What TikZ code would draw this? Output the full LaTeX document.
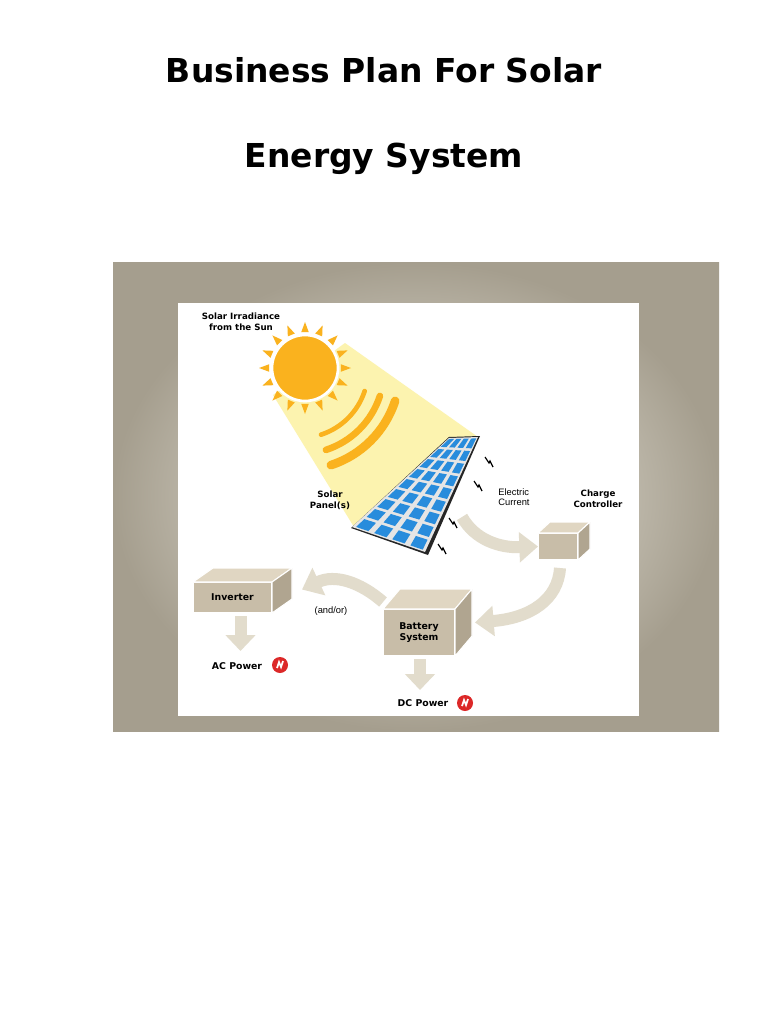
\documentclass[tikz,border=0pt]{standalone}
\usepackage{fontspec}
\setmainfont{DejaVu Sans}
\newfontfamily\lab{Liberation Sans}
\usetikzlibrary{arrows.meta,calc}
\definecolor{beam}{RGB}{252,243,175}
\definecolor{sun}{RGB}{250,178,30}
\definecolor{panelblue}{RGB}{40,140,220}
\definecolor{boxfront}{RGB}{200,189,168}
\definecolor{boxtop}{RGB}{224,214,194}
\definecolor{boxside}{RGB}{176,165,144}
\definecolor{arrowc}{RGB}{226,220,204}
\definecolor{iconred}{RGB}{220,40,40}
\tikzset{
 title/.style={font=\bfseries\fontsize{24.7}{30}\selectfont},
 small/.style={font=\bfseries\fontsize{6.5}{8}\selectfont,align=center},
 boxlab/.style={font=\bfseries\fontsize{7}{8}\selectfont,align=center},
 reg/.style={font=\lab\fontsize{7}{8}\selectfont,align=left},
 flow/.style={draw=arrowc,line width=9,-{Triangle[length=14,width=22]}},
 downarr/.style={draw=arrowc,line width=9,-{Triangle[length=12,width=22]}},
 bolt/.style={draw=black,line width=0.9},
 front/.style={fill=boxfront,draw=white,line width=0.8,inner sep=0,outer sep=0},
}
\newcommand\mkcube[7]{% name, x1,y1,x2,y2, dx,dy
 \node[front,minimum width={(#4-#2)*0.75pt},minimum height={(#5-#3)*0.75pt},anchor=north west] (#1) at (#2,#3) {};
 \fill[boxtop,draw=white,line width=0.8] (#1.north west) -- ++(#6,#7) -- ($(#1.north east)+(#6,#7)$) -- (#1.north east) -- cycle;
 \fill[boxside,draw=white,line width=0.8] (#1.north east) -- ++(#6,#7) -- ($(#1.south east)+(#6,#7)$) -- (#1.south east) -- cycle;
}
\newcommand\mkicon[3]{%
 \node[circle,fill=iconred,minimum size=12,inner sep=0] (#1) at (#2,#3) {};
 \draw[white,line width=1.3] ($(#1)+(-3,3)$) -- ($(#1)+(-1,-3)$) -- ($(#1)+(1,2)$) -- ($(#1)+(3,-4)$);
}
% bilinear point on panel: TL(449,438) TR(478,437) BL(352,527) BR(425,552)
\newcommand\pp[2]{({(1-#2)*(449+#1*29)+#2*(352+#1*73)},{(1-#2)*(438-#1*1)+#2*(527+#1*25)})}
\begin{document}
\begin{tikzpicture}[x=0.75pt,y=-0.75pt]
\useasboundingbox (0,0) rectangle (768,1024);
\fill[white] (0,0) rectangle (768,1024);
\node[title] (t1) at (384,70) {Business Plan For Solar};
\node[title] (t2) at (384,159) {Energy System};
% frame
\shade[inner color={rgb,255:red,244;green,242;blue,234},outer color={rgb,255:red,165;green,158;blue,142}] (113,262) rectangle (719,731);
\fill[white] (178,303) rectangle (639,716);
% beam
\fill[beam] (345,343) -- (478,437) -- (354,527) -- (273,395) -- cycle;
% sun
\foreach \a in {0,22.5,...,359} {
 \fill[sun] ($(305,368)+(\a-6:36)$) -- ($(305,368)+(\a:46)$) -- ($(305,368)+(\a+6:36)$) -- cycle;
}
\fill[sun,draw=white,line width=2] (305,368) circle (33);
% crescents
\foreach \r/\w in {68/3.5,84/5,100/6.5} {
 \draw[sun,line width=\w,line cap=round] ($(300,370)+(18:\r)$) arc (18:72:\r);
}
% panel
\fill[black!85] (449,437) -- (480,436) -- (428,555) -- (351,528) -- cycle;
\fill[white!90!black] \pp{0}{0} -- \pp{1}{0} -- \pp{1}{1} -- \pp{0}{1} -- cycle;
\foreach \i in {0,...,3} \foreach \j in {0,...,8} {
 \pgfmathsetmacro\ua{\i/4+0.04}\pgfmathsetmacro\ub{(\i+1)/4-0.04}
 \pgfmathsetmacro\va{\j/9+0.012}\pgfmathsetmacro\vb{(\j+1)/9-0.012}
 \fill[panelblue] \pp{\ua}{\va} -- \pp{\ub}{\va} -- \pp{\ub}{\vb} -- \pp{\ua}{\vb} -- cycle;
}
% bolts
\foreach \bx/\by in {489/462, 478/486, 453/523, 442/549} {
 \draw[bolt] (\bx-4,\by-5) -- (\bx,\by+1) -- (\bx+1,\by-1) -- (\bx+4,\by+5);
}
% labels
\node[small] (irr) at (241,322) {Solar Irradiance\\from the Sun};
\node[small] (pan) at (330,500) {Solar\\Panel(s)};
\node[reg] (cur) at (514,497) {Electric\\Current};
\node[small] (ccl) at (598,499) {Charge\\Controller};
\node[reg] (andor) at (331,611) {(and/or)};
% cubes
\mkcube{cc}{538}{533}{578}{560}{12}{-11}
\mkcube{inv}{193}{582}{272}{613}{20}{-14}
\mkcube{bat}{383}{609}{455}{656}{17}{-20}
\node[boxlab] at (inv) {Inverter};
\node[boxlab] at (bat) {Battery\\System};
% flow arrows
\coordinate (p1) at (462,517);
\draw[flow] (p1) .. controls (475,540) and (500,548) .. (cc.west);
\coordinate (p2) at (560,568);
\draw[flow] (p2) .. controls (558,600) and (530,618) .. ($(bat.east)+(20,-10)$);
\coordinate (p3) at (383,602);
\draw[flow] (p3) .. controls (360,582) and (335,574) .. ($(inv.east)+(30,-8)$);
% down arrows
\node[boxlab] (ac) at (237,666) {AC Power};
\node[boxlab] (dc) at (423,703) {DC Power};
\draw[downarr] ($(inv.south)+(8,3)$) -- ($(inv.south)+(8,38)$);
\draw[downarr] ($(bat.south)+(1,3)$) -- ($(bat.south)+(1,34)$);
\mkicon{aci}{280}{665}
\mkicon{dci}{465}{703}
\end{tikzpicture}
\end{document}
